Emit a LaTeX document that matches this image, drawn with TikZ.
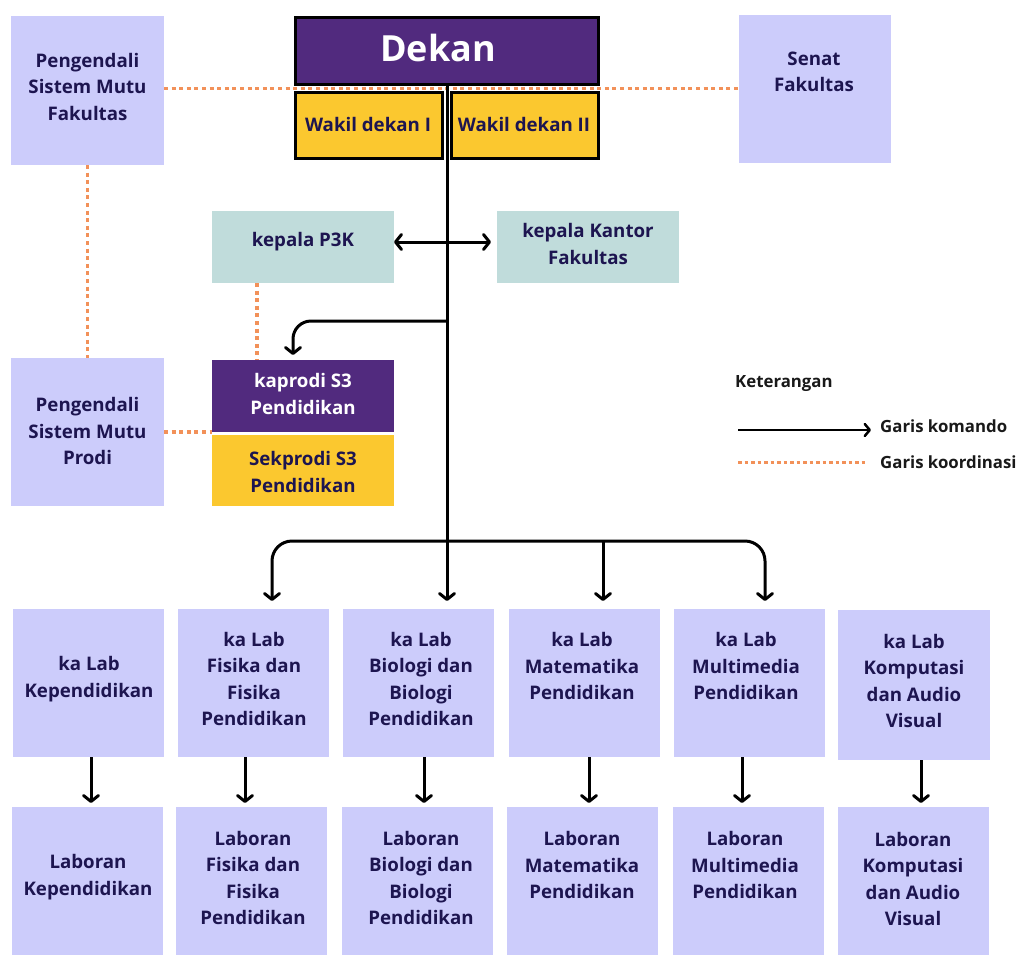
\documentclass[tikz,border=0pt]{standalone}
\usepackage{fontspec}
\setmainfont{Open Sans}
\usetikzlibrary{arrows.meta}
\definecolor{dpurple}{HTML}{512A7E}
\definecolor{dyellow}{HTML}{FBC82F}
\definecolor{lavc}{HTML}{CCCCFB}
\definecolor{tealc}{HTML}{C0DCDB}
\definecolor{dotor}{HTML}{F29159}
\definecolor{navyc}{HTML}{1D1550}
\begin{document}
\begin{tikzpicture}[x=1pt,y=-1pt,
  box/.style={rectangle, inner sep=0pt, outer sep=0pt, draw=none},
  lavbox/.style={box, fill=lavc, minimum width=151pt, minimum height=148pt},
  tealbox/.style={box, fill=tealc, minimum width=182pt, minimum height=72pt},
  bordbox/.style={box, draw=black, line width=3pt},
  txt/.style={font=\bfseries\fontsize{18.7}{26.5}\selectfont, text=navyc, align=center, inner sep=0pt},
  wtxt/.style={txt, text=white},
  legtxt/.style={font=\bfseries\fontsize{16.8}{20}\selectfont, text=black!90, anchor=west, inner sep=0pt},
  cmd/.style={line width=3pt, -{Straight Barb[length=6pt,width=15pt,round]}},
  cmdd/.style={line width=3pt, {Straight Barb[length=6pt,width=15pt,round]}-{Straight Barb[length=6pt,width=15pt,round]}},
  coordl/.style={dotor, line width=3.5pt, dash pattern=on 4pt off 3.6pt},
]
\useasboundingbox (0,0) rectangle (1030,967);
\fill[white] (0,0) rectangle (1030,967);

% top row
\node[lavbox, minimum width=153pt, minimum height=149pt] (pf) at (87.5,90.5) {};
\node[txt] (pft) at (87.5,86.5) {Pengendali\\Sistem Mutu\\Fakultas};
\node[lavbox, minimum width=152pt, minimum height=148pt] (senat) at (815,89) {};
\node[txt] (senatt) at (814,72) {Senat\\Fakultas};

\node[bordbox, fill=dpurple, minimum width=303pt, minimum height=67pt] (dekan) at (447,51) {};
\node[wtxt, font=\bfseries\fontsize{36}{40}\selectfont] (dekant) at (438,48) {Dekan};
\node[bordbox, fill=dyellow, minimum width=147pt, minimum height=66pt] (wk1) at (369,125.5) {};
\node[txt] (wk1t) at (368,124) {Wakil dekan I};
\node[bordbox, fill=dyellow, minimum width=147pt, minimum height=66pt] (wk2) at (525,125.5) {};
\node[txt] (wk2t) at (524,124) {Wakil dekan II};

% middle
\node[tealbox] (p3k) at (303,247) {};
\node[txt] (p3kt) at (303,242) {kepala P3K};
\node[tealbox] (kantor) at (588,247) {};
\node[txt] (kantort) at (588,244) {kepala Kantor\\Fakultas};

\node[box, fill=dpurple, minimum width=182pt, minimum height=72pt] (kaprodi) at (303,396) {};
\node[wtxt] (kaprodit) at (303,394) {kaprodi S3\\Pendidikan};
\node[box, fill=dyellow, minimum width=182pt, minimum height=71pt] (sekprodi) at (303,470.5) {};
\node[txt] (sekprodit) at (303,472) {Sekprodi S3\\Pendidikan};

\node[lavbox, minimum width=153pt] (pp) at (87.5,432) {};
\node[txt] (ppt) at (87.5,431) {Pengendali\\Sistem Mutu\\Prodi};

% lab row
\node[lavbox] (lab1) at (88.5,683) {};
\node[lavbox] (lab2) at (253.5,683) {};
\node[lavbox] (lab3) at (418.5,683) {};
\node[lavbox] (lab4) at (584.5,683) {};
\node[lavbox] (lab5) at (749.5,683) {};
\node[lavbox, minimum width=152pt, minimum height=150pt] (lab6) at (914,685) {};
\node[txt] (lab1t) at (89,679) {ka Lab\\Kependidikan};
\node[txt] (lab2t) at (254,679) {ka Lab\\Fisika dan\\Fisika\\Pendidikan};
\node[txt] (lab3t) at (421,679) {ka Lab\\Biologi dan\\Biologi\\Pendidikan};
\node[txt] (lab4t) at (582,666) {ka Lab\\Matematika\\Pendidikan};
\node[txt] (lab5t) at (746,666) {ka Lab\\Multimedia\\Pendidikan};
\node[txt] (lab6t) at (914,681) {ka Lab\\Komputasi\\dan Audio\\Visual};

% laboran row
\node[lavbox] (lbr1) at (87.5,881) {};
\node[lavbox] (lbr2) at (251.5,881) {};
\node[lavbox] (lbr3) at (417.5,881) {};
\node[lavbox] (lbr4) at (582.5,881) {};
\node[lavbox] (lbr5) at (748.5,881) {};
\node[lavbox] (lbr6) at (913.5,881) {};
\node[txt] (lbr1t) at (88,877) {Laboran\\Kependidikan};
\node[txt] (lbr2t) at (253,878) {Laboran\\Fisika dan\\Fisika\\Pendidikan};
\node[txt] (lbr3t) at (421,878) {Laboran\\Biologi dan\\Biologi\\Pendidikan};
\node[txt] (lbr4t) at (582,865) {Laboran\\Matematika\\Pendidikan};
\node[txt] (lbr5t) at (745,865) {Laboran\\Multimedia\\Pendidikan};
\node[txt] (lbr6t) at (913,879) {Laboran\\Komputasi\\dan Audio\\Visual};

% coordination lines
\draw[coordl] ([yshift=2pt]pf.east) -- ([yshift=2pt]pf.east -| senat.west);
\draw[coordl] (pf.south) -- (pp.north);
\draw[coordl] (pp.east) -- (pp.east -| kaprodi.west);
\draw[coordl] ([xshift=-46pt]p3k.south) -- ([xshift=-46pt]kaprodi.north);

% command lines
\draw[cmd] (dekan.south) -- ([yshift=8pt]dekan.south |- lab3.north);
\draw[cmdd] ([yshift=5pt]p3k.east) -- ([yshift=5pt,xshift=-6pt]kantor.west);
\coordinate (j1) at (447,321);
\draw[cmd, rounded corners=18pt] (j1) -- (293,321) -- ([xshift=-10pt,yshift=5pt]kaprodi.north);
\coordinate (bus) at (447,541);
\draw[cmd, rounded corners=20pt] (bus) -- (272,541) -- ([xshift=18.5pt,yshift=8pt]lab2.north);
\draw[cmd, rounded corners=20pt] (bus) -- (765,541) -- ([xshift=15.5pt,yshift=8pt]lab5.north);
\draw[cmd] (603,541) -- ([xshift=18.5pt,yshift=8pt]lab4.north);

\draw[cmd] ([xshift=2.5pt]lab1.south) -- ([xshift=3.5pt,yshift=4pt]lbr1.north);
\draw[cmd] ([xshift=-8.5pt]lab2.south) -- ([xshift=-6.5pt,yshift=4pt]lbr2.north);
\draw[cmd] ([xshift=5.5pt]lab3.south) -- ([xshift=6.5pt,yshift=4pt]lbr3.north);
\draw[cmd] ([xshift=4.5pt]lab4.south) -- ([xshift=6.5pt,yshift=4pt]lbr4.north);
\draw[cmd] ([xshift=-7.5pt]lab5.south) -- ([xshift=-6.5pt,yshift=4pt]lbr5.north);
\draw[cmd] ([xshift=7pt]lab6.south) -- ([xshift=7.5pt,yshift=4pt]lbr6.north);

% legend
\node[legtxt] (ket) at (735,384) {Keterangan};
\node[legtxt] (gk) at (880,426) {Garis komando};
\node[legtxt] (gko) at (880,462) {Garis koordinasi};
\coordinate (l1a) at (738,430);
\coordinate (l1b) at (871,430);
\coordinate (l2a) at (738,462);
\coordinate (l2b) at (868,462);
\draw[line width=2.5pt, -{Straight Barb[length=5pt,width=12pt,round]}] (l1a) -- (l1b);
\draw[dotor, line width=3pt, dash pattern=on 3.5pt off 3pt] (l2a) -- (l2b);
\end{tikzpicture}
\end{document}
